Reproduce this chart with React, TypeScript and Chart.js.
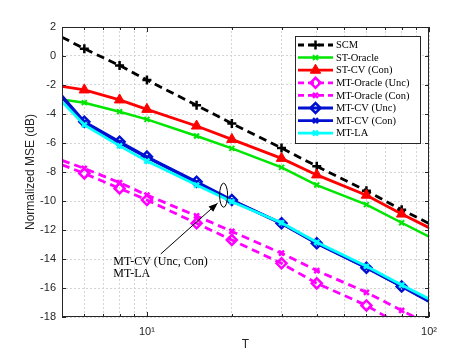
import React, { useEffect, useRef } from 'react';
import { Chart, registerables } from 'chart.js';
import { drawPoint } from 'chart.js/helpers';

Chart.register(...registerables);

// ---- data ----
const T = [5, 6, 8, 10, 15, 20, 30, 40, 60, 80, 100];
const scm = [1.3, 0.5, -0.65, -1.66, -3.4, -4.65, -6.35, -7.6, -9.3, -10.6, -11.55];
const stOracle = [-3.0, -3.22, -3.84, -4.37, -5.52, -6.37, -7.68, -8.9, -10.25, -11.5, -12.46];
const stCvCon = [-2.1, -2.34, -3.03, -3.68, -4.83, -5.75, -7.06, -8.2, -9.6, -10.9, -11.84];
const mtOracleUnc = [-7.5, -8.1, -9.13, -9.93, -11.54, -12.69, -14.3, -15.68, -17.2, -18.6, -19.6];
const mtOracleCon = [-7.2, -7.75, -8.74, -9.59, -11.03, -12.1, -13.6, -14.8, -16.3, -17.55, -18.5];
const mtCvUnc = [-2.75, -4.53, -5.91, -6.94, -8.67, -9.93, -11.54, -12.92, -14.6, -15.9, -16.94];
const mtCvCon = [-2.85, -4.6, -5.98, -7.0, -8.72, -9.97, -11.56, -12.93, -14.6, -15.88, -16.9];
const mtLa = [-3.15, -4.75, -6.2, -7.25, -8.9, -10.05, -11.5, -12.85, -14.5, -15.8, -16.75];

const seriesNames = [
  'SCM', 'ST-Oracle', 'ST-CV (Con)', 'MT-Oracle (Unc)', 'MT-Oracle (Con)',
  'MT-CV (Unc)', 'MT-CV (Con)', 'MT-LA',
];
const xTickValues = [5, 6, 7, 8, 9, 10, 20, 30, 40, 50, 60, 70, 80, 90, 100];
const yMin = -18;
const yMax = 2;
const annotationLines = ['MT-CV (Unc, Con)', 'MT-LA'];

// ---- styles ----
const styles = [
  { color: '#000000', dash: [8, 5], marker: 'cross', r: 4.5, fill: false, bw: 2.5, lw: 2.8 },
  { color: '#00e600', dash: [], marker: 'crossRot', r: 3.5, fill: false, bw: 2, lw: 2.5 },
  { color: '#ff0000', dash: [], marker: 'triangle', r: 6, fill: true, bw: 1, lw: 2.8 },
  { color: '#ff00ff', dash: [8, 5], marker: 'rectRot', r: 5, fill: false, bw: 2.5, lw: 2.8 },
  { color: '#ff00ff', dash: [8, 5], marker: 'crossRot', r: 3.5, fill: false, bw: 2.5, lw: 2.8 },
  { color: '#0010d0', dash: [], marker: 'rectRot', r: 5, fill: false, bw: 2.5, lw: 2.8 },
  { color: '#0010d0', dash: [], marker: 'crossRot', r: 3.5, fill: false, bw: 2.5, lw: 2.8 },
  { color: '#00ffff', dash: [], marker: 'crossRot', r: 3.5, fill: false, bw: 2.5, lw: 2.8 },
];
const seriesData = [scm, stOracle, stCvCon, mtOracleUnc, mtOracleCon, mtCvUnc, mtCvCon, mtLa];

const AXIS_COLOR = '#262626';
const SANS = '"Liberation Sans", Arial, sans-serif';
const SERIF = '"Liberation Serif", "Times New Roman", serif';

const overlayPlugin = {
  id: 'overlay',
  afterDraw(chart: any) {
    const { ctx, chartArea: a, scales } = chart;
    const xs = scales.x;
    const ys = scales.y;
    ctx.save();
    // frame
    ctx.strokeStyle = AXIS_COLOR;
    ctx.lineWidth = 1;
    ctx.setLineDash([]);
    ctx.strokeRect(a.left + 0.5, a.top + 0.5, a.right - a.left - 1, a.bottom - a.top - 1);
    // inward ticks
    ctx.beginPath();
    xTickValues.forEach((v) => {
      const px = Math.round(xs.getPixelForValue(v)) + 0.5;
      const len = v === 10 || v === 100 ? 5 : 3;
      ctx.moveTo(px, a.bottom);
      ctx.lineTo(px, a.bottom - len);
      ctx.moveTo(px, a.top);
      ctx.lineTo(px, a.top + len);
    });
    for (let v = yMin; v <= yMax; v += 2) {
      const py = Math.round(ys.getPixelForValue(v)) + 0.5;
      ctx.moveTo(a.left, py);
      ctx.lineTo(a.left + 4, py);
      ctx.moveTo(a.right, py);
      ctx.lineTo(a.right - 4, py);
    }
    ctx.stroke();

    // annotation: ellipse + arrow + text
    const ex = xs.getPixelForValue(18.7);
    const ey = ys.getPixelForValue(-9.6);
    ctx.strokeStyle = '#000';
    ctx.lineWidth = 1;
    ctx.beginPath();
    ctx.ellipse(ex, ey, 4, 12, 0, 0, Math.PI * 2);
    ctx.stroke();
    const sx = xs.getPixelForValue(11.2);
    const sy = ys.getPixelForValue(-13.65);
    const tx = ex - 6;
    const ty = ey + 8;
    ctx.beginPath();
    ctx.moveTo(sx, sy);
    ctx.lineTo(tx, ty);
    ctx.stroke();
    const ang = Math.atan2(ty - sy, tx - sx);
    ctx.fillStyle = '#000';
    ctx.beginPath();
    ctx.moveTo(tx, ty);
    ctx.lineTo(tx - 9 * Math.cos(ang) + 3.5 * Math.sin(ang), ty - 9 * Math.sin(ang) - 3.5 * Math.cos(ang));
    ctx.lineTo(tx - 9 * Math.cos(ang) - 3.5 * Math.sin(ang), ty - 9 * Math.sin(ang) + 3.5 * Math.cos(ang));
    ctx.closePath();
    ctx.fill();
    ctx.font = `12px ${SERIF}`;
    ctx.textBaseline = 'middle';
    ctx.textAlign = 'left';
    const lx = xs.getPixelForValue(7.6);
    ctx.fillText(annotationLines[0], lx, ys.getPixelForValue(-14.2));
    ctx.fillText(annotationLines[1], lx, ys.getPixelForValue(-15.05));

    // legend
    const bx = 295.5, by = 36.5, bw = 125, bh = 107;
    ctx.fillStyle = '#fff';
    ctx.fillRect(bx, by, bw, bh);
    ctx.strokeStyle = AXIS_COLOR;
    ctx.lineWidth = 1;
    ctx.strokeRect(bx, by, bw, bh);
    ctx.font = `10.5px ${SERIF}`;
    seriesNames.forEach((name, i) => {
      const st = styles[i];
      const y = 45 + i * 12.6;
      ctx.strokeStyle = st.color;
      ctx.lineWidth = st.lw;
      ctx.setLineDash(st.dash.length ? [6, 4] : []);
      ctx.beginPath();
      ctx.moveTo(298, y);
      ctx.lineTo(333, y);
      ctx.stroke();
      ctx.setLineDash([]);
      ctx.fillStyle = st.fill ? st.color : 'rgba(0,0,0,0)';
      ctx.strokeStyle = st.color;
      ctx.lineWidth = st.bw;
      drawPoint(ctx, { pointStyle: st.marker, radius: st.r, borderWidth: st.bw, rotation: 0 }, 315.5, y);
      ctx.fillStyle = '#000';
      ctx.fillText(name, 336, y + 0.5);
    });
    ctx.restore();
  },
};

export default function App() {
  const ref = useRef<HTMLCanvasElement>(null);
  useEffect(() => {
    if (!ref.current) return;
    const n = T.length;
    const radiusFor = (r: number) => T.map((_, i) => (i === 0 || i === n - 1 ? 0 : r));
    const datasets = seriesNames.map((name, i) => {
      const st = styles[i];
      return {
        label: name,
        data: T.map((t, k) => ({ x: t, y: seriesData[i][k] })),
        borderColor: st.color,
        backgroundColor: st.fill ? st.color : 'rgba(0,0,0,0)',
        borderWidth: st.lw,
        borderDash: st.dash,
        pointStyle: st.marker,
        pointRadius: radiusFor(st.r),
        pointBorderWidth: st.bw,
        pointBorderColor: st.color,
        pointBackgroundColor: st.fill ? st.color : 'rgba(0,0,0,0)',
        tension: 0,
        fill: false,
        clip: 0,
        order: seriesNames.length - i,
      };
    });
    const gridCommon = { color: '#d4d4d4', drawTicks: false, lineWidth: 1 };
    const chart = new Chart(ref.current, {
      type: 'line',
      data: { datasets },
      options: {
        animation: false,
        responsive: false,
        layout: { padding: { left: 0, top: 27, right: 45, bottom: 0 } },
        plugins: { legend: { display: false }, tooltip: { enabled: false } },
        scales: {
          x: {
            type: 'logarithmic',
            min: 5,
            max: 100,
            afterBuildTicks: (s: any) => {
              s.ticks = xTickValues.map((v) => ({ value: v }));
            },
            afterFit: (s: any) => {
              s.height = 38;
            },
            ticks: {
              autoSkip: false,
              maxRotation: 0,
              padding: 8,
              color: AXIS_COLOR,
              font: { family: SANS, size: 11 },
              callback: (v: any) => (v === 10 ? '10\u00b9' : v === 100 ? '10\u00b2' : ''),
            },
            grid: gridCommon,
            border: { display: false, dash: [2, 2] },
            title: {
              display: true,
              text: 'T',
              color: AXIS_COLOR,
              font: { family: SANS, size: 12 },
              padding: { top: 0, bottom: 3 },
            },
          },
          y: {
            type: 'linear',
            min: yMin,
            max: yMax,
            afterFit: (s: any) => {
              s.width = 62;
            },
            ticks: {
              stepSize: 2,
              padding: 6,
              color: AXIS_COLOR,
              font: { family: SANS, size: 11 },
            },
            grid: gridCommon,
            border: { display: false, dash: [2, 2] },
            title: {
              display: true,
              text: 'Normalized MSE (dB)',
              color: AXIS_COLOR,
              font: { family: SANS, size: 12 },
              padding: { top: 23, bottom: 0 },
            },
          },
        },
      },
      plugins: [overlayPlugin],
    } as any);
    return () => chart.destroy();
  }, []);
  return (
    <div style={{ position: 'fixed', left: 0, top: 0, width: 474, height: 355, background: '#fff' }}>
      <canvas ref={ref} width={474} height={355} style={{ width: 474, height: 355, display: 'block' }} />
    </div>
  );
}
